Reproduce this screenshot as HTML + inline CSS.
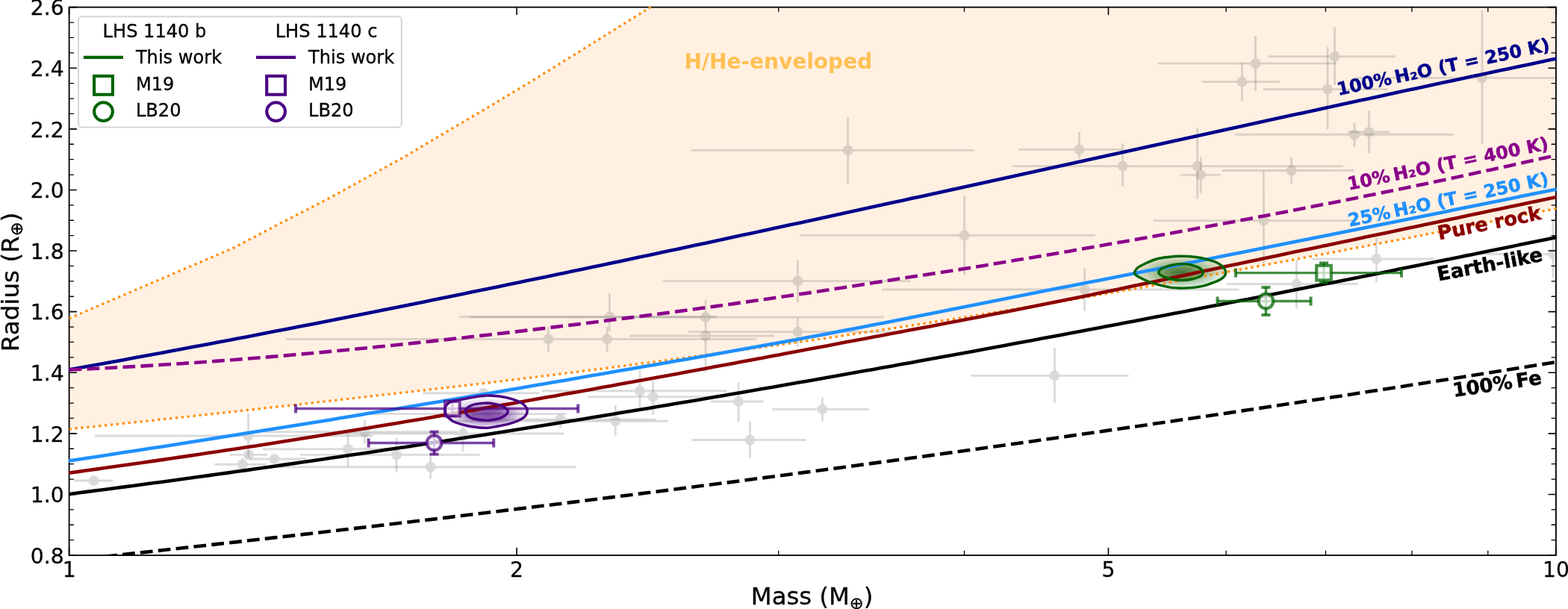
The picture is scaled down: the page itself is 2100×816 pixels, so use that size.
<!DOCTYPE html>
<html lang="en"><head><meta charset="utf-8"><title>Mass-radius diagram: LHS 1140 b and c</title>
<style>html,body{margin:0;padding:0;background:#fff;overflow:hidden}svg text{white-space:pre}.t{stroke:#000;stroke-width:0.3px}</style></head>
<body>
<svg width="2100" height="816" viewBox="0 0 2100 816" style="display:block;font-family:'DejaVu Sans','Liberation Sans',sans-serif">
<rect width="2100" height="816" fill="#fff"/>
<defs>
<clipPath id="ax"><rect x="92.6" y="9.65" width="1991.3" height="734.4"/></clipPath>
<clipPath id="ax2"><rect x="91.70" y="8.75" width="1993.1" height="736.2"/></clipPath>
<clipPath id="clc"><path d="M595.9,549.0C596.0,547.4 596.4,545.6 597.0,544.3C597.6,542.9 598.5,541.9 599.6,540.9C600.7,539.9 601.9,539.0 603.7,538.3C605.5,537.6 608.1,537.0 610.4,536.5C612.6,536.0 613.8,536.0 617.2,535.4C620.6,534.8 625.1,533.7 630.6,532.8C636.1,531.9 643.7,530.3 650.0,530.0C656.3,529.7 662.8,530.3 668.6,531.0C674.4,531.7 680.2,533.1 684.7,534.4C689.2,535.7 692.8,537.1 695.8,538.6C698.8,540.1 701.3,541.8 703.0,543.6C704.7,545.4 705.7,547.7 706.1,549.5C706.5,551.3 706.0,552.9 705.3,554.5C704.6,556.1 703.8,557.6 701.8,559.2C699.8,560.8 696.8,562.5 693.3,564.0C689.8,565.5 685.5,566.9 681.0,568.1C676.5,569.3 671.3,570.3 666.1,571.2C660.9,572.1 655.9,573.4 650.0,573.4C644.1,573.4 636.1,572.3 630.6,571.5C625.1,570.7 621.0,569.5 617.2,568.4C613.4,567.3 610.0,566.0 607.7,565.0C605.5,564.0 605.2,563.2 603.7,562.1C602.2,561.0 600.2,559.8 599.0,558.4C597.8,557.0 597.1,555.3 596.6,553.7C596.1,552.1 595.8,550.6 595.9,549.0Z"/></clipPath>
<radialGradient id="gc" gradientUnits="userSpaceOnUse" cx="0" cy="0" r="1" gradientTransform="translate(652,555) rotate(0) scale(60,22)"><stop offset="0" stop-color="#4b0082" stop-opacity="0.72"/><stop offset="0.3" stop-color="#4b0082" stop-opacity="0.62"/><stop offset="0.5" stop-color="#4b0082" stop-opacity="0.4"/><stop offset="0.75" stop-color="#4b0082" stop-opacity="0.14"/><stop offset="1" stop-color="#4b0082" stop-opacity="0.02"/></radialGradient>
<clipPath id="clb"><path d="M1519.4,365.2C1519.7,363.7 1521.4,361.1 1522.7,359.6C1524.0,358.2 1524.9,357.8 1527.0,356.5C1529.2,355.3 1532.0,353.8 1535.7,352.2C1539.4,350.6 1544.6,348.3 1549.3,347.0C1554.1,345.7 1559.2,345.1 1564.2,344.5C1569.1,343.9 1574.5,343.4 1579.0,343.3C1583.6,343.1 1587.3,343.3 1591.4,343.5C1595.6,343.8 1599.7,344.1 1603.8,344.8C1607.9,345.4 1612.1,346.4 1616.2,347.5C1620.3,348.6 1625.3,349.8 1628.6,351.2C1631.9,352.6 1634.0,354.3 1636.0,355.9C1638.0,357.5 1639.4,359.4 1640.3,360.9C1641.3,362.3 1641.6,363.1 1641.6,364.6C1641.6,366.0 1641.5,367.9 1640.3,369.5C1639.2,371.1 1637.1,372.8 1634.8,374.2C1632.4,375.7 1629.8,376.7 1626.1,378.2C1622.4,379.6 1617.2,381.7 1612.5,382.9C1607.7,384.1 1602.6,384.8 1597.6,385.4C1592.7,385.9 1587.5,386.2 1582.8,386.2C1578.0,386.2 1573.5,385.9 1569.1,385.4C1564.8,384.8 1560.9,383.9 1556.8,382.9C1552.6,381.9 1548.1,380.6 1544.4,379.4C1540.7,378.2 1537.6,377.1 1534.5,375.7C1531.4,374.4 1528.1,372.6 1525.8,371.4C1523.5,370.1 1521.9,369.3 1520.9,368.3C1519.8,367.3 1519.1,366.6 1519.4,365.2Z"/></clipPath>
<radialGradient id="gb" gradientUnits="userSpaceOnUse" cx="0" cy="0" r="1" gradientTransform="translate(1581,365) rotate(0) scale(66,24)"><stop offset="0" stop-color="#1f5a14" stop-opacity="0.82"/><stop offset="0.3" stop-color="#2a6a1c" stop-opacity="0.7"/><stop offset="0.5" stop-color="#2e7d32" stop-opacity="0.45"/><stop offset="0.75" stop-color="#2e7d32" stop-opacity="0.22"/><stop offset="1" stop-color="#2e7d32" stop-opacity="0.12"/></radialGradient>
</defs>
<g clip-path="url(#ax)">
<path d="M91.6,427.0L93.6,426.2L95.6,425.3L97.5,424.5L99.5,423.6L101.5,422.8L103.5,421.9L105.4,421.1L107.4,420.2L109.4,419.4L111.4,418.5L113.3,417.7L115.3,416.8L117.3,416.0L119.3,415.1L121.2,414.3L123.2,413.4L125.2,412.6L127.2,411.7L129.1,410.9L131.1,410.0L133.1,409.2L135.1,408.4L137.0,407.5L139.0,406.7L141.0,405.8L143.0,405.0L145.0,404.1L146.9,403.3L148.9,402.4L150.9,401.6L152.9,400.7L154.8,399.9L156.8,399.0L158.8,398.2L160.8,397.3L162.7,396.5L164.7,395.6L166.7,394.8L168.7,393.9L170.6,393.1L172.6,392.2L174.6,391.4L176.6,390.6L178.5,389.7L180.5,388.9L182.5,388.0L184.5,387.2L186.4,386.3L188.4,385.5L190.4,384.6L192.4,383.8L194.3,382.9L196.3,382.1L198.3,381.2L200.3,380.4L202.3,379.5L204.2,378.7L206.2,377.8L208.2,377.0L210.2,376.1L212.1,375.3L214.1,374.4L216.1,373.6L218.1,372.8L220.0,371.9L222.0,371.1L224.0,370.2L226.0,369.4L227.9,368.5L229.9,367.7L231.9,366.8L233.9,366.0L235.8,365.1L237.8,364.3L239.8,363.4L241.8,362.6L243.7,361.7L245.7,360.9L247.7,360.0L249.7,359.2L251.7,358.3L253.6,357.5L255.6,356.6L257.6,355.8L259.6,355.0L261.5,354.1L263.5,353.3L265.5,352.4L267.5,351.6L269.4,350.7L271.4,349.9L273.4,349.0L275.4,348.2L277.3,347.3L279.3,346.5L281.3,345.6L283.3,344.8L285.2,343.9L287.2,343.1L289.2,342.2L291.2,341.4L293.1,340.5L295.1,339.7L297.1,338.9L299.1,338.0L301.0,337.2L303.0,336.3L305.0,335.5L307.0,334.6L309.0,333.8L310.9,332.9L312.9,332.1L314.9,331.1L316.9,330.1L318.8,329.0L320.8,328.0L322.8,327.0L324.8,325.9L326.7,324.9L328.7,323.8L330.7,322.8L332.7,321.7L334.6,320.7L336.6,319.6L338.6,318.6L340.6,317.6L342.5,316.5L344.5,315.5L346.5,314.4L348.5,313.4L350.4,312.3L352.4,311.3L354.4,310.2L356.4,309.2L358.4,308.2L360.3,307.1L362.3,306.1L364.3,305.0L366.3,304.0L368.2,302.9L370.2,301.9L372.2,300.9L374.2,299.9L376.1,298.8L378.1,297.8L380.1,296.8L382.1,295.8L384.0,294.8L386.0,293.8L388.0,292.7L390.0,291.7L391.9,290.7L393.9,289.7L395.9,288.7L397.9,287.7L399.8,286.7L401.8,285.6L403.8,284.6L405.8,283.6L407.8,282.6L409.7,281.6L411.7,280.6L413.7,279.5L415.7,278.5L417.6,277.5L419.6,276.5L421.6,275.5L423.6,274.5L425.5,273.4L427.5,272.4L429.5,271.4L431.5,270.4L433.4,269.4L435.4,268.4L437.4,267.3L439.4,266.3L441.3,265.3L443.3,264.2L445.3,263.1L447.3,262.0L449.2,260.9L451.2,259.8L453.2,258.7L455.2,257.7L457.1,256.6L459.1,255.5L461.1,254.4L463.1,253.3L465.1,252.2L467.0,251.1L469.0,250.0L471.0,249.0L473.0,247.9L474.9,246.8L476.9,245.7L478.9,244.6L480.9,243.5L482.8,242.4L484.8,241.4L486.8,240.3L488.8,239.2L490.7,238.1L492.7,237.0L494.7,235.9L496.7,234.8L498.6,233.7L500.6,232.7L502.6,231.6L504.6,230.5L506.5,229.4L508.5,228.3L510.5,227.2L512.5,226.1L514.5,225.1L516.4,224.0L518.4,222.9L520.4,221.8L522.4,220.7L524.3,219.6L526.3,218.5L528.3,217.4L530.3,216.4L532.2,215.3L534.2,214.2L536.2,213.1L538.2,212.0L540.1,210.9L542.1,209.7L544.1,208.6L546.1,207.4L548.0,206.2L550.0,205.1L552.0,203.9L554.0,202.7L555.9,201.6L557.9,200.4L559.9,199.2L561.9,198.1L563.8,196.9L565.8,195.7L567.8,194.6L569.8,193.4L571.8,192.2L573.7,191.0L575.7,189.9L577.7,188.7L579.7,187.5L581.6,186.4L583.6,185.2L585.6,184.0L587.6,182.9L589.5,181.7L591.5,180.5L593.5,179.4L595.5,178.2L597.4,177.0L599.4,175.8L601.4,174.7L603.4,173.5L605.3,172.3L607.3,171.2L609.3,170.0L611.3,168.8L613.2,167.7L615.2,166.5L617.2,165.3L619.2,164.2L621.2,163.0L623.1,161.8L625.1,160.6L627.1,159.5L629.1,158.3L631.0,157.1L633.0,156.0L635.0,154.8L637.0,153.6L638.9,152.5L640.9,151.3L642.9,150.1L644.9,149.0L646.8,147.8L648.8,146.6L650.8,145.4L652.8,144.3L654.7,143.1L656.7,141.9L658.7,140.8L660.7,139.6L662.6,138.4L664.6,137.2L666.6,136.0L668.6,134.8L670.6,133.6L672.5,132.4L674.5,131.2L676.5,130.1L678.5,128.9L680.4,127.7L682.4,126.5L684.4,125.3L686.4,124.1L688.3,122.9L690.3,121.7L692.3,120.5L694.3,119.3L696.2,118.1L698.2,116.9L700.2,115.7L702.2,114.6L704.1,113.4L706.1,112.2L708.1,111.0L710.1,109.8L712.0,108.6L714.0,107.4L716.0,106.2L718.0,105.0L719.9,103.8L721.9,102.6L723.9,101.3L725.9,100.1L727.9,98.9L729.8,97.6L731.8,96.4L733.8,95.2L735.8,94.0L737.7,92.7L739.7,91.5L741.7,90.3L743.7,89.0L745.6,87.8L747.6,86.6L749.6,85.4L751.6,84.1L753.5,82.9L755.5,81.7L757.5,80.4L759.5,79.2L761.4,78.0L763.4,76.8L765.4,75.5L767.4,74.3L769.3,73.1L771.3,71.8L773.3,70.6L775.3,69.4L777.3,68.1L779.2,66.9L781.2,65.7L783.2,64.5L785.2,63.2L787.1,62.0L789.1,60.8L791.1,59.5L793.1,58.3L795.0,57.1L797.0,55.9L799.0,54.6L801.0,53.4L802.9,52.2L804.9,50.9L806.9,49.7L808.9,48.5L810.8,47.2L812.8,46.0L814.8,44.8L816.8,43.5L818.7,42.3L820.7,41.1L822.7,39.9L824.7,38.6L826.6,37.4L828.6,36.2L830.6,34.9L832.6,33.7L834.6,32.5L836.5,31.2L838.5,30.0L840.5,28.8L842.5,27.5L844.4,26.3L846.4,25.1L848.4,23.8L850.4,22.6L852.3,21.4L854.3,20.2L856.3,18.9L858.3,17.7L860.2,16.5L862.2,15.2L864.2,14.0L866.2,12.8L868.1,11.5L870.1,10.3L872.1,9.1L874.1,7.8L876.0,6.6L878.0,5.4L880.0,4.2L2088.9,-20.4L2088.9,279.2L2084.9,279.2L2072.4,281.8L2059.8,284.3L2047.3,286.8L2034.8,289.4L2022.2,291.9L2009.7,294.4L1997.1,296.9L1984.6,299.4L1972.1,301.9L1959.5,304.4L1947.0,306.9L1934.5,309.3L1921.9,311.8L1909.4,314.2L1896.9,316.7L1884.3,319.1L1871.8,321.5L1859.2,323.9L1846.7,326.4L1834.2,328.8L1821.6,331.1L1809.1,333.5L1796.6,335.9L1784.0,338.3L1771.5,340.6L1759.0,343.0L1746.4,345.3L1733.9,347.6L1721.3,350.0L1708.8,352.3L1696.3,354.6L1683.7,356.9L1671.2,359.3L1658.7,361.6L1646.1,363.9L1633.6,366.2L1621.1,368.5L1608.5,370.8L1596.0,373.1L1583.4,375.4L1570.9,377.7L1558.4,380.0L1545.8,382.2L1533.3,384.5L1520.8,386.7L1508.2,388.9L1495.7,391.1L1483.1,393.3L1470.6,395.5L1458.1,397.7L1445.5,399.8L1433.0,402.0L1420.5,404.1L1407.9,406.2L1395.4,408.2L1382.9,410.3L1370.3,412.4L1357.8,414.4L1345.2,416.4L1332.7,418.4L1320.2,420.5L1307.6,422.5L1295.1,424.4L1282.6,426.4L1270.0,428.4L1257.5,430.3L1245.0,432.3L1232.4,434.2L1219.9,436.2L1207.3,438.1L1194.8,440.0L1182.3,441.9L1169.7,443.7L1157.2,445.6L1144.7,447.5L1132.1,449.3L1119.6,451.1L1107.1,453.0L1094.5,454.8L1082.0,456.6L1069.4,458.3L1056.9,460.1L1044.4,461.9L1031.8,463.7L1019.3,465.4L1006.8,467.2L994.2,468.9L981.7,470.6L969.2,472.3L956.6,474.0L944.1,475.8L931.5,477.4L919.0,479.1L906.5,480.8L893.9,482.5L881.4,484.1L868.9,485.8L856.3,487.4L843.8,489.1L831.3,490.7L818.7,492.3L806.2,494.0L793.6,495.6L781.1,497.2L768.6,498.8L756.0,500.3L743.5,501.9L731.0,503.5L718.4,505.0L705.9,506.6L693.4,508.1L680.8,509.6L668.3,511.1L655.7,512.6L643.2,514.1L630.7,515.6L618.1,517.0L605.6,518.5L593.1,519.9L580.5,521.4L568.0,522.8L555.4,524.3L542.9,525.7L530.4,527.1L517.8,528.5L505.3,530.0L492.8,531.4L480.2,532.8L467.7,534.2L455.2,535.7L442.6,537.1L430.1,538.5L417.5,539.9L405.0,541.3L392.5,542.7L379.9,544.1L367.4,545.5L354.9,546.9L342.3,548.3L329.8,549.7L317.3,551.1L304.7,552.4L292.2,553.8L279.6,555.2L267.1,556.5L254.6,557.9L242.0,559.2L229.5,560.6L217.0,561.9L204.4,563.3L191.9,564.6L179.4,565.9L166.8,567.2L154.3,568.6L141.7,569.9L129.2,571.2L116.7,572.5L104.1,573.8L91.6,575.1Z" fill="#fff0e2"/>
<g opacity="0.26"><path d="M99,644H151M125.6,641V647" stroke="#777777" stroke-width="2.9" fill="none"/><circle cx="125.6" cy="644" r="7.0" fill="#6c6c6c" fill-opacity="0.92"/></g><g opacity="0.26"><path d="M126.6,584H499M332.6,554V613" stroke="#777777" stroke-width="2.9" fill="none"/><circle cx="332.6" cy="584" r="7.0" fill="#6c6c6c" fill-opacity="0.92"/></g><g opacity="0.26"><path d="M308,609.4H358M333,604V615" stroke="#777777" stroke-width="2.9" fill="none"/><circle cx="333" cy="609.4" r="7.0" fill="#6c6c6c" fill-opacity="0.92"/></g><g opacity="0.26"><path d="M287,622.3H357M324.6,614V631" stroke="#777777" stroke-width="2.9" fill="none"/><circle cx="324.6" cy="622.3" r="7.0" fill="#6c6c6c" fill-opacity="0.92"/></g><g opacity="0.26"><path d="M334.5,615H410M367.4,610V620" stroke="#777777" stroke-width="2.9" fill="none"/><circle cx="367.4" cy="615" r="7.0" fill="#6c6c6c" fill-opacity="0.92"/></g><g opacity="0.26"><path d="M352,601.8H520M466.1,581V625" stroke="#777777" stroke-width="2.9" fill="none"/><circle cx="466.1" cy="601.8" r="7.0" fill="#6c6c6c" fill-opacity="0.92"/></g><g opacity="0.26"><path d="M354,578.8H613M488.4,563V594.5" stroke="#777777" stroke-width="2.9" fill="none"/><circle cx="488.4" cy="578.8" r="7.0" fill="#6c6c6c" fill-opacity="0.92"/></g><g opacity="0.26"><path d="M402,609.4H643M531,587V632.6" stroke="#777777" stroke-width="2.9" fill="none"/><circle cx="531" cy="609.4" r="7.0" fill="#6c6c6c" fill-opacity="0.92"/></g><g opacity="0.26"><path d="M360,625.8H771M576.6,609V641.4" stroke="#777777" stroke-width="2.9" fill="none"/><circle cx="576.6" cy="625.8" r="7.0" fill="#6c6c6c" fill-opacity="0.92"/></g><g opacity="0.26"><path d="M440,581H755M620,572V605" stroke="#777777" stroke-width="2.9" fill="none"/><circle cx="620" cy="581" r="7.0" fill="#6c6c6c" fill-opacity="0.92"/></g><g opacity="0.26"><path d="M566.5,526.7H722M647.5,521V533" stroke="#777777" stroke-width="2.9" fill="none"/><circle cx="647.5" cy="526.7" r="7.0" fill="#6c6c6c" fill-opacity="0.92"/></g><g opacity="0.26"><path d="M477,554.6H759M630,550V559" stroke="#777777" stroke-width="2.9" fill="none"/><circle cx="630" cy="554.6" r="7.0" fill="#6c6c6c" fill-opacity="0.92"/></g><g opacity="0.26"><path d="M655,562H878M750.5,555.5V574" stroke="#777777" stroke-width="2.9" fill="none"/><circle cx="750.5" cy="562" r="7.0" fill="#6c6c6c" fill-opacity="0.92"/></g><g opacity="0.26"><path d="M601,564.2H895M824.2,543V583.5" stroke="#777777" stroke-width="2.9" fill="none"/><circle cx="824.2" cy="564.2" r="7.0" fill="#6c6c6c" fill-opacity="0.92"/></g><g opacity="0.26"><path d="M726,523.7H973.6M857,495.6V545.7" stroke="#777777" stroke-width="2.9" fill="none"/><circle cx="857" cy="523.7" r="7.0" fill="#6c6c6c" fill-opacity="0.92"/></g><g opacity="0.26"><path d="M787,531.6H952M874.6,510.4V556.2" stroke="#777777" stroke-width="2.9" fill="none"/><circle cx="874.6" cy="531.6" r="7.0" fill="#6c6c6c" fill-opacity="0.92"/></g><g opacity="0.26"><path d="M383,454.4H773M734.4,438V471" stroke="#777777" stroke-width="2.9" fill="none"/><circle cx="734.4" cy="454.4" r="7.0" fill="#6c6c6c" fill-opacity="0.92"/></g><g opacity="0.26"><path d="M773,454.4H1013.6M813,438V471" stroke="#777777" stroke-width="2.9" fill="none"/><circle cx="813" cy="454.4" r="7.0" fill="#6c6c6c" fill-opacity="0.92"/></g><g opacity="0.26"><path d="M615.4,424.5H960M816.4,393.4V444" stroke="#777777" stroke-width="2.9" fill="none"/><circle cx="816.4" cy="424.5" r="7.0" fill="#6c6c6c" fill-opacity="0.92"/></g><g opacity="0.26"><path d="M630,425H1184M945,401.6V437.5" stroke="#777777" stroke-width="2.9" fill="none"/><circle cx="945" cy="425" r="7.0" fill="#6c6c6c" fill-opacity="0.92"/></g><g opacity="0.26"><path d="M843,450H1037M945,437.5V499" stroke="#777777" stroke-width="2.9" fill="none"/><circle cx="945" cy="450" r="7.0" fill="#6c6c6c" fill-opacity="0.92"/></g><g opacity="0.26"><path d="M888,376.6H1219.4M1068.4,348.6V405.6" stroke="#777777" stroke-width="2.9" fill="none"/><circle cx="1068.4" cy="376.6" r="7.0" fill="#6c6c6c" fill-opacity="0.92"/></g><g opacity="0.26"><path d="M922,444.6H1192M1068.4,426V464" stroke="#777777" stroke-width="2.9" fill="none"/><circle cx="1068.4" cy="444.6" r="7.0" fill="#6c6c6c" fill-opacity="0.92"/></g><g opacity="0.26"><path d="M951.6,538H1022.6M989,512.4V565.6" stroke="#777777" stroke-width="2.9" fill="none"/><circle cx="989" cy="538" r="7.0" fill="#6c6c6c" fill-opacity="0.92"/></g><g opacity="0.26"><path d="M1034,548.4H1163.6M1101.4,532.6V564.4" stroke="#777777" stroke-width="2.9" fill="none"/><circle cx="1101.4" cy="548.4" r="7.0" fill="#6c6c6c" fill-opacity="0.92"/></g><g opacity="0.26"><path d="M926,589.5H1079.6M1004.4,565V613.6" stroke="#777777" stroke-width="2.9" fill="none"/><circle cx="1004.4" cy="589.5" r="7.0" fill="#6c6c6c" fill-opacity="0.92"/></g><g opacity="0.26"><path d="M926,201.4H1304.6M1135.6,157V246" stroke="#777777" stroke-width="2.9" fill="none"/><circle cx="1135.6" cy="201.4" r="7.0" fill="#6c6c6c" fill-opacity="0.92"/></g><g opacity="0.26"><path d="M1071.4,315.4H1467M1291.6,262.6V368.4" stroke="#777777" stroke-width="2.9" fill="none"/><circle cx="1291.6" cy="315.4" r="7.0" fill="#6c6c6c" fill-opacity="0.92"/></g><g opacity="0.26"><path d="M1300,503.4H1511.6M1412.4,466.4V540" stroke="#777777" stroke-width="2.9" fill="none"/><circle cx="1412.4" cy="503.4" r="7.0" fill="#6c6c6c" fill-opacity="0.92"/></g><g opacity="0.26"><path d="M1364,200.4H1503M1445.4,176.6V212" stroke="#777777" stroke-width="2.9" fill="none"/><circle cx="1445.4" cy="200.4" r="7.0" fill="#6c6c6c" fill-opacity="0.92"/></g><g opacity="0.26"><path d="M1181,388H1659.6M1452.6,359V417" stroke="#777777" stroke-width="2.9" fill="none"/><circle cx="1452.6" cy="388" r="7.0" fill="#6c6c6c" fill-opacity="0.92"/></g><g opacity="0.26"><path d="M1356,222.6H1553M1503.6,192V250" stroke="#777777" stroke-width="2.9" fill="none"/><circle cx="1503.6" cy="222.6" r="7.0" fill="#6c6c6c" fill-opacity="0.92"/></g><g opacity="0.26"><path d="M1553,222.6H1799M1603.6,171.6V266.6" stroke="#777777" stroke-width="2.9" fill="none"/><circle cx="1603.6" cy="222.6" r="7.0" fill="#6c6c6c" fill-opacity="0.92"/></g><g opacity="0.26"><path d="M1581,234.4H1635M1608.2,210V258.6" stroke="#777777" stroke-width="2.9" fill="none"/><circle cx="1608.2" cy="234.4" r="7.0" fill="#6c6c6c" fill-opacity="0.92"/></g><g opacity="0.26"><path d="M1609.6,109.6H1713.6M1663.4,84.4V135.6" stroke="#777777" stroke-width="2.9" fill="none"/><circle cx="1663.4" cy="109.6" r="7.0" fill="#6c6c6c" fill-opacity="0.92"/></g><g opacity="0.26"><path d="M1551,85H1789.6M1681.4,48V122" stroke="#777777" stroke-width="2.9" fill="none"/><circle cx="1681.4" cy="85" r="7.0" fill="#6c6c6c" fill-opacity="0.92"/></g><g opacity="0.26"><path d="M1545,295.6H1816M1692.4,229V353" stroke="#777777" stroke-width="2.9" fill="none"/><circle cx="1692.4" cy="295.6" r="7.0" fill="#6c6c6c" fill-opacity="0.92"/></g><g opacity="0.26"><path d="M1636.6,228.5H1813M1729.6,210.6V246" stroke="#777777" stroke-width="2.9" fill="none"/><circle cx="1729.6" cy="228.5" r="7.0" fill="#6c6c6c" fill-opacity="0.92"/></g><g opacity="0.26"><path d="M1642.4,380.5H1819M1736.4,348V413.6" stroke="#777777" stroke-width="2.9" fill="none"/><circle cx="1736.4" cy="380.5" r="7.0" fill="#6c6c6c" fill-opacity="0.92"/></g><g opacity="0.26"><path d="M1691.6,119.6H1858.6M1778,63V173" stroke="#777777" stroke-width="2.9" fill="none"/><circle cx="1778" cy="119.6" r="7.0" fill="#6c6c6c" fill-opacity="0.92"/></g><g opacity="0.26"><path d="M1698,75.6H1868.6M1787.6,36.4V114" stroke="#777777" stroke-width="2.9" fill="none"/><circle cx="1787.6" cy="75.6" r="7.0" fill="#6c6c6c" fill-opacity="0.92"/></g><g opacity="0.26"><path d="M1653.6,180.3H1946.6M1814,165V197" stroke="#777777" stroke-width="2.9" fill="none"/><circle cx="1814" cy="180.3" r="7.0" fill="#6c6c6c" fill-opacity="0.92"/></g><g opacity="0.26"><path d="M1805,177H1861.6M1833.6,148.4V205" stroke="#777777" stroke-width="2.9" fill="none"/><circle cx="1833.6" cy="177" r="7.0" fill="#6c6c6c" fill-opacity="0.92"/></g><g opacity="0.26"><path d="M1757,347H1920.6M1843.4,318V378" stroke="#777777" stroke-width="2.9" fill="none"/><circle cx="1843.4" cy="347" r="7.0" fill="#6c6c6c" fill-opacity="0.92"/></g><g opacity="0.26"><path d="M1814.4,104.4H2100M1985,14V192.7" stroke="#777777" stroke-width="2.9" fill="none"/><circle cx="1985" cy="104.4" r="7.0" fill="#6c6c6c" fill-opacity="0.92"/></g><g opacity="0.26"><path d="M1959,340.5H2110M2080,294V372.4" stroke="#777777" stroke-width="2.9" fill="none"/><circle cx="2080" cy="340.5" r="7.0" fill="#6c6c6c" fill-opacity="0.92"/></g>
<rect x="452" y="455" width="400" height="200" fill="url(#gc)" clip-path="url(#clc)"/>
<rect x="1381" y="265" width="400" height="200" fill="url(#gb)" clip-path="url(#clb)"/>
</g>
<rect x="92.6" y="9.65" width="1991.3" height="734.4" fill="none" stroke="#000" stroke-width="1.8"/>
<path d="M92.6,744.05h10.3M2083.9,744.05h-10.3M92.6,662.45h10.3M2083.9,662.45h-10.3M92.6,580.85h10.3M2083.9,580.85h-10.3M92.6,499.25h10.3M2083.9,499.25h-10.3M92.6,417.65h10.3M2083.9,417.65h-10.3M92.6,336.05h10.3M2083.9,336.05h-10.3M92.6,254.45h10.3M2083.9,254.45h-10.3M92.6,172.85h10.3M2083.9,172.85h-10.3M92.6,91.25h10.3M2083.9,91.25h-10.3M92.6,9.65h10.3M2083.9,9.65h-10.3M92.60,744.05v-10.3M92.60,9.65v10.3M692.04,744.05v-10.3M692.04,9.65v10.3M1484.46,744.05v-10.3M1484.46,9.65v10.3M2083.90,744.05v-10.3M2083.90,9.65v10.3" stroke="#000" stroke-width="1.6"/>
<path d="M92.6,723.65h6.3M2083.9,723.65h-6.3M92.6,703.25h6.3M2083.9,703.25h-6.3M92.6,682.85h6.3M2083.9,682.85h-6.3M92.6,642.05h6.3M2083.9,642.05h-6.3M92.6,621.65h6.3M2083.9,621.65h-6.3M92.6,601.25h6.3M2083.9,601.25h-6.3M92.6,560.45h6.3M2083.9,560.45h-6.3M92.6,540.05h6.3M2083.9,540.05h-6.3M92.6,519.65h6.3M2083.9,519.65h-6.3M92.6,478.85h6.3M2083.9,478.85h-6.3M92.6,458.45h6.3M2083.9,458.45h-6.3M92.6,438.05h6.3M2083.9,438.05h-6.3M92.6,397.25h6.3M2083.9,397.25h-6.3M92.6,376.85h6.3M2083.9,376.85h-6.3M92.6,356.45h6.3M2083.9,356.45h-6.3M92.6,315.65h6.3M2083.9,315.65h-6.3M92.6,295.25h6.3M2083.9,295.25h-6.3M92.6,274.85h6.3M2083.9,274.85h-6.3M92.6,234.05h6.3M2083.9,234.05h-6.3M92.6,213.65h6.3M2083.9,213.65h-6.3M92.6,193.25h6.3M2083.9,193.25h-6.3M92.6,152.45h6.3M2083.9,152.45h-6.3M92.6,132.05h6.3M2083.9,132.05h-6.3M92.6,111.65h6.3M2083.9,111.65h-6.3M92.6,70.85h6.3M2083.9,70.85h-6.3M92.6,50.45h6.3M2083.9,50.45h-6.3M92.6,30.05h6.3M2083.9,30.05h-6.3M1042.69,744.05v-6.3M1042.69,9.65v6.3M1291.48,744.05v-6.3M1291.48,9.65v6.3M1642.13,744.05v-6.3M1642.13,9.65v6.3M1775.44,744.05v-6.3M1775.44,9.65v6.3M1890.92,744.05v-6.3M1890.92,9.65v6.3M1992.78,744.05v-6.3M1992.78,9.65v6.3" stroke="#000" stroke-width="1.3"/>
<g clip-path="url(#ax2)">
<path d="M91.6,427.0L93.6,426.2L95.6,425.3L97.5,424.5L99.5,423.6L101.5,422.8L103.5,421.9L105.4,421.1L107.4,420.2L109.4,419.4L111.4,418.5L113.3,417.7L115.3,416.8L117.3,416.0L119.3,415.1L121.2,414.3L123.2,413.4L125.2,412.6L127.2,411.7L129.1,410.9L131.1,410.0L133.1,409.2L135.1,408.4L137.0,407.5L139.0,406.7L141.0,405.8L143.0,405.0L145.0,404.1L146.9,403.3L148.9,402.4L150.9,401.6L152.9,400.7L154.8,399.9L156.8,399.0L158.8,398.2L160.8,397.3L162.7,396.5L164.7,395.6L166.7,394.8L168.7,393.9L170.6,393.1L172.6,392.2L174.6,391.4L176.6,390.6L178.5,389.7L180.5,388.9L182.5,388.0L184.5,387.2L186.4,386.3L188.4,385.5L190.4,384.6L192.4,383.8L194.3,382.9L196.3,382.1L198.3,381.2L200.3,380.4L202.3,379.5L204.2,378.7L206.2,377.8L208.2,377.0L210.2,376.1L212.1,375.3L214.1,374.4L216.1,373.6L218.1,372.8L220.0,371.9L222.0,371.1L224.0,370.2L226.0,369.4L227.9,368.5L229.9,367.7L231.9,366.8L233.9,366.0L235.8,365.1L237.8,364.3L239.8,363.4L241.8,362.6L243.7,361.7L245.7,360.9L247.7,360.0L249.7,359.2L251.7,358.3L253.6,357.5L255.6,356.6L257.6,355.8L259.6,355.0L261.5,354.1L263.5,353.3L265.5,352.4L267.5,351.6L269.4,350.7L271.4,349.9L273.4,349.0L275.4,348.2L277.3,347.3L279.3,346.5L281.3,345.6L283.3,344.8L285.2,343.9L287.2,343.1L289.2,342.2L291.2,341.4L293.1,340.5L295.1,339.7L297.1,338.9L299.1,338.0L301.0,337.2L303.0,336.3L305.0,335.5L307.0,334.6L309.0,333.8L310.9,332.9L312.9,332.1L314.9,331.1L316.9,330.1L318.8,329.0L320.8,328.0L322.8,327.0L324.8,325.9L326.7,324.9L328.7,323.8L330.7,322.8L332.7,321.7L334.6,320.7L336.6,319.6L338.6,318.6L340.6,317.6L342.5,316.5L344.5,315.5L346.5,314.4L348.5,313.4L350.4,312.3L352.4,311.3L354.4,310.2L356.4,309.2L358.4,308.2L360.3,307.1L362.3,306.1L364.3,305.0L366.3,304.0L368.2,302.9L370.2,301.9L372.2,300.9L374.2,299.9L376.1,298.8L378.1,297.8L380.1,296.8L382.1,295.8L384.0,294.8L386.0,293.8L388.0,292.7L390.0,291.7L391.9,290.7L393.9,289.7L395.9,288.7L397.9,287.7L399.8,286.7L401.8,285.6L403.8,284.6L405.8,283.6L407.8,282.6L409.7,281.6L411.7,280.6L413.7,279.5L415.7,278.5L417.6,277.5L419.6,276.5L421.6,275.5L423.6,274.5L425.5,273.4L427.5,272.4L429.5,271.4L431.5,270.4L433.4,269.4L435.4,268.4L437.4,267.3L439.4,266.3L441.3,265.3L443.3,264.2L445.3,263.1L447.3,262.0L449.2,260.9L451.2,259.8L453.2,258.7L455.2,257.7L457.1,256.6L459.1,255.5L461.1,254.4L463.1,253.3L465.1,252.2L467.0,251.1L469.0,250.0L471.0,249.0L473.0,247.9L474.9,246.8L476.9,245.7L478.9,244.6L480.9,243.5L482.8,242.4L484.8,241.4L486.8,240.3L488.8,239.2L490.7,238.1L492.7,237.0L494.7,235.9L496.7,234.8L498.6,233.7L500.6,232.7L502.6,231.6L504.6,230.5L506.5,229.4L508.5,228.3L510.5,227.2L512.5,226.1L514.5,225.1L516.4,224.0L518.4,222.9L520.4,221.8L522.4,220.7L524.3,219.6L526.3,218.5L528.3,217.4L530.3,216.4L532.2,215.3L534.2,214.2L536.2,213.1L538.2,212.0L540.1,210.9L542.1,209.7L544.1,208.6L546.1,207.4L548.0,206.2L550.0,205.1L552.0,203.9L554.0,202.7L555.9,201.6L557.9,200.4L559.9,199.2L561.9,198.1L563.8,196.9L565.8,195.7L567.8,194.6L569.8,193.4L571.8,192.2L573.7,191.0L575.7,189.9L577.7,188.7L579.7,187.5L581.6,186.4L583.6,185.2L585.6,184.0L587.6,182.9L589.5,181.7L591.5,180.5L593.5,179.4L595.5,178.2L597.4,177.0L599.4,175.8L601.4,174.7L603.4,173.5L605.3,172.3L607.3,171.2L609.3,170.0L611.3,168.8L613.2,167.7L615.2,166.5L617.2,165.3L619.2,164.2L621.2,163.0L623.1,161.8L625.1,160.6L627.1,159.5L629.1,158.3L631.0,157.1L633.0,156.0L635.0,154.8L637.0,153.6L638.9,152.5L640.9,151.3L642.9,150.1L644.9,149.0L646.8,147.8L648.8,146.6L650.8,145.4L652.8,144.3L654.7,143.1L656.7,141.9L658.7,140.8L660.7,139.6L662.6,138.4L664.6,137.2L666.6,136.0L668.6,134.8L670.6,133.6L672.5,132.4L674.5,131.2L676.5,130.1L678.5,128.9L680.4,127.7L682.4,126.5L684.4,125.3L686.4,124.1L688.3,122.9L690.3,121.7L692.3,120.5L694.3,119.3L696.2,118.1L698.2,116.9L700.2,115.7L702.2,114.6L704.1,113.4L706.1,112.2L708.1,111.0L710.1,109.8L712.0,108.6L714.0,107.4L716.0,106.2L718.0,105.0L719.9,103.8L721.9,102.6L723.9,101.3L725.9,100.1L727.9,98.9L729.8,97.6L731.8,96.4L733.8,95.2L735.8,94.0L737.7,92.7L739.7,91.5L741.7,90.3L743.7,89.0L745.6,87.8L747.6,86.6L749.6,85.4L751.6,84.1L753.5,82.9L755.5,81.7L757.5,80.4L759.5,79.2L761.4,78.0L763.4,76.8L765.4,75.5L767.4,74.3L769.3,73.1L771.3,71.8L773.3,70.6L775.3,69.4L777.3,68.1L779.2,66.9L781.2,65.7L783.2,64.5L785.2,63.2L787.1,62.0L789.1,60.8L791.1,59.5L793.1,58.3L795.0,57.1L797.0,55.9L799.0,54.6L801.0,53.4L802.9,52.2L804.9,50.9L806.9,49.7L808.9,48.5L810.8,47.2L812.8,46.0L814.8,44.8L816.8,43.5L818.7,42.3L820.7,41.1L822.7,39.9L824.7,38.6L826.6,37.4L828.6,36.2L830.6,34.9L832.6,33.7L834.6,32.5L836.5,31.2L838.5,30.0L840.5,28.8L842.5,27.5L844.4,26.3L846.4,25.1L848.4,23.8L850.4,22.6L852.3,21.4L854.3,20.2L856.3,18.9L858.3,17.7L860.2,16.5L862.2,15.2L864.2,14.0L866.2,12.8L868.1,11.5L870.1,10.3L872.1,9.1L874.1,7.8L876.0,6.6L878.0,5.4L880.0,4.2" fill="none" stroke="#ff8c00" stroke-width="3.2" stroke-dasharray="3.2,4.75" stroke-dashoffset="-1"/>
<path d="M91.6,575.1L104.1,573.8L116.7,572.5L129.2,571.2L141.7,569.9L154.3,568.6L166.8,567.2L179.4,565.9L191.9,564.6L204.4,563.3L217.0,561.9L229.5,560.6L242.0,559.2L254.6,557.9L267.1,556.5L279.6,555.2L292.2,553.8L304.7,552.4L317.3,551.1L329.8,549.7L342.3,548.3L354.9,546.9L367.4,545.5L379.9,544.1L392.5,542.7L405.0,541.3L417.5,539.9L430.1,538.5L442.6,537.1L455.2,535.7L467.7,534.2L480.2,532.8L492.8,531.4L505.3,530.0L517.8,528.5L530.4,527.1L542.9,525.7L555.4,524.3L568.0,522.8L580.5,521.4L593.1,519.9L605.6,518.5L618.1,517.0L630.7,515.6L643.2,514.1L655.7,512.6L668.3,511.1L680.8,509.6L693.4,508.1L705.9,506.6L718.4,505.0L731.0,503.5L743.5,501.9L756.0,500.3L768.6,498.8L781.1,497.2L793.6,495.6L806.2,494.0L818.7,492.3L831.3,490.7L843.8,489.1L856.3,487.4L868.9,485.8L881.4,484.1L893.9,482.5L906.5,480.8L919.0,479.1L931.5,477.4L944.1,475.8L956.6,474.0L969.2,472.3L981.7,470.6L994.2,468.9L1006.8,467.2L1019.3,465.4L1031.8,463.7L1044.4,461.9L1056.9,460.1L1069.4,458.3L1082.0,456.6L1094.5,454.8L1107.1,453.0L1119.6,451.1L1132.1,449.3L1144.7,447.5L1157.2,445.6L1169.7,443.7L1182.3,441.9L1194.8,440.0L1207.3,438.1L1219.9,436.2L1232.4,434.2L1245.0,432.3L1257.5,430.3L1270.0,428.4L1282.6,426.4L1295.1,424.4L1307.6,422.5L1320.2,420.5L1332.7,418.4L1345.2,416.4L1357.8,414.4L1370.3,412.4L1382.9,410.3L1395.4,408.2L1407.9,406.2L1420.5,404.1L1433.0,402.0L1445.5,399.8L1458.1,397.7L1470.6,395.5L1483.1,393.3L1495.7,391.1L1508.2,388.9L1520.8,386.7L1533.3,384.5L1545.8,382.2L1558.4,380.0L1570.9,377.7L1583.4,375.4L1596.0,373.1L1608.5,370.8L1621.1,368.5L1633.6,366.2L1646.1,363.9L1658.7,361.6L1671.2,359.3L1683.7,356.9L1696.3,354.6L1708.8,352.3L1721.3,350.0L1733.9,347.6L1746.4,345.3L1759.0,343.0L1771.5,340.6L1784.0,338.3L1796.6,335.9L1809.1,333.5L1821.6,331.1L1834.2,328.8L1846.7,326.4L1859.2,323.9L1871.8,321.5L1884.3,319.1L1896.9,316.7L1909.4,314.2L1921.9,311.8L1934.5,309.3L1947.0,306.9L1959.5,304.4L1972.1,301.9L1984.6,299.4L1997.1,296.9L2009.7,294.4L2022.2,291.9L2034.8,289.4L2047.3,286.8L2059.8,284.3L2072.4,281.8L2084.9,279.2" fill="none" stroke="#ff8c00" stroke-width="3.2" stroke-dasharray="3.2,4.75" stroke-dashoffset="-1"/>
<path d="M91.6,751.0L104.1,749.6L116.7,748.3L129.2,746.9L141.7,745.5L154.3,744.2L166.8,742.8L179.4,741.4L191.9,740.1L204.4,738.7L217.0,737.3L229.5,735.9L242.0,734.5L254.6,733.1L267.1,731.7L279.6,730.3L292.2,728.9L304.7,727.5L317.3,726.1L329.8,724.7L342.3,723.3L354.9,721.9L367.4,720.4L379.9,719.0L392.5,717.6L405.0,716.1L417.5,714.7L430.1,713.2L442.6,711.8L455.2,710.3L467.7,708.9L480.2,707.4L492.8,705.9L505.3,704.5L517.8,703.0L530.4,701.5L542.9,700.0L555.4,698.5L568.0,697.1L580.5,695.6L593.1,694.1L605.6,692.6L618.1,691.0L630.7,689.5L643.2,688.0L655.7,686.5L668.3,685.0L680.8,683.4L693.4,681.9L705.9,680.4L718.4,678.8L731.0,677.3L743.5,675.8L756.0,674.2L768.6,672.6L781.1,671.1L793.6,669.5L806.2,667.9L818.7,666.4L831.3,664.8L843.8,663.2L856.3,661.6L868.9,660.0L881.4,658.5L893.9,656.9L906.5,655.3L919.0,653.6L931.5,652.0L944.1,650.4L956.6,648.8L969.2,647.2L981.7,645.6L994.2,643.9L1006.8,642.3L1019.3,640.6L1031.8,639.0L1044.4,637.4L1056.9,635.7L1069.4,634.0L1082.0,632.4L1094.5,630.7L1107.1,629.0L1119.6,627.4L1132.1,625.7L1144.7,624.0L1157.2,622.3L1169.7,620.6L1182.3,618.9L1194.8,617.2L1207.3,615.5L1219.9,613.8L1232.4,612.1L1245.0,610.4L1257.5,608.7L1270.0,606.9L1282.6,605.2L1295.1,603.5L1307.6,601.7L1320.2,600.0L1332.7,598.2L1345.2,596.5L1357.8,594.7L1370.3,593.0L1382.9,591.2L1395.4,589.4L1407.9,587.7L1420.5,585.9L1433.0,584.1L1445.5,582.3L1458.1,580.5L1470.6,578.7L1483.1,576.9L1495.7,575.1L1508.2,573.3L1520.8,571.5L1533.3,569.7L1545.8,567.8L1558.4,566.0L1570.9,564.2L1583.4,562.3L1596.0,560.5L1608.5,558.6L1621.1,556.8L1633.6,554.9L1646.1,553.1L1658.7,551.2L1671.2,549.3L1683.7,547.5L1696.3,545.6L1708.8,543.7L1721.3,541.8L1733.9,539.9L1746.4,538.0L1759.0,536.1L1771.5,534.2L1784.0,532.3L1796.6,530.4L1809.1,528.4L1821.6,526.5L1834.2,524.6L1846.7,522.7L1859.2,520.7L1871.8,518.8L1884.3,516.8L1896.9,514.9L1909.4,512.9L1921.9,510.9L1934.5,509.0L1947.0,507.0L1959.5,505.0L1972.1,503.0L1984.6,501.0L1997.1,499.1L2009.7,497.1L2022.2,495.0L2034.8,493.0L2047.3,491.0L2059.8,489.0L2072.4,487.0L2084.9,485.0" fill="none" stroke="#000" stroke-width="4.6" stroke-dasharray="16.75,7.23" stroke-dashoffset="-1"/>
<path d="M91.6,662.2L104.1,660.5L116.7,658.9L129.2,657.3L141.7,655.7L154.3,654.0L166.8,652.4L179.4,650.7L191.9,649.0L204.4,647.3L217.0,645.7L229.5,644.0L242.0,642.3L254.6,640.5L267.1,638.8L279.6,637.1L292.2,635.3L304.7,633.6L317.3,631.8L329.8,630.1L342.3,628.3L354.9,626.5L367.4,624.7L379.9,622.9L392.5,621.1L405.0,619.3L417.5,617.5L430.1,615.7L442.6,613.8L455.2,612.0L467.7,610.1L480.2,608.3L492.8,606.4L505.3,604.5L517.8,602.6L530.4,600.8L542.9,598.9L555.4,596.9L568.0,595.0L580.5,593.1L593.1,591.2L605.6,589.2L618.1,587.3L630.7,585.3L643.2,583.4L655.7,581.4L668.3,579.4L680.8,577.5L693.4,575.5L705.9,573.5L718.4,571.5L731.0,569.5L743.5,567.4L756.0,565.4L768.6,563.4L781.1,561.4L793.6,559.3L806.2,557.3L818.7,555.2L831.3,553.1L843.8,551.1L856.3,549.0L868.9,546.9L881.4,544.8L893.9,542.7L906.5,540.6L919.0,538.5L931.5,536.4L944.1,534.2L956.6,532.1L969.2,530.0L981.7,527.8L994.2,525.7L1006.8,523.5L1019.3,521.3L1031.8,519.2L1044.4,517.0L1056.9,514.8L1069.4,512.6L1082.0,510.4L1094.5,508.2L1107.1,506.0L1119.6,503.8L1132.1,501.6L1144.7,499.3L1157.2,497.1L1169.7,494.9L1182.3,492.6L1194.8,490.4L1207.3,488.1L1219.9,485.9L1232.4,483.6L1245.0,481.3L1257.5,479.0L1270.0,476.8L1282.6,474.5L1295.1,472.2L1307.6,469.9L1320.2,467.6L1332.7,465.3L1345.2,462.9L1357.8,460.6L1370.3,458.3L1382.9,456.0L1395.4,453.6L1407.9,451.3L1420.5,448.9L1433.0,446.6L1445.5,444.2L1458.1,441.8L1470.6,439.5L1483.1,437.1L1495.7,434.7L1508.2,432.3L1520.8,429.9L1533.3,427.5L1545.8,425.1L1558.4,422.7L1570.9,420.3L1583.4,417.9L1596.0,415.5L1608.5,413.1L1621.1,410.6L1633.6,408.2L1646.1,405.8L1658.7,403.3L1671.2,400.9L1683.7,398.4L1696.3,396.0L1708.8,393.5L1721.3,391.1L1733.9,388.6L1746.4,386.1L1759.0,383.6L1771.5,381.1L1784.0,378.7L1796.6,376.2L1809.1,373.7L1821.6,371.2L1834.2,368.7L1846.7,366.2L1859.2,363.7L1871.8,361.1L1884.3,358.6L1896.9,356.1L1909.4,353.6L1921.9,351.0L1934.5,348.5L1947.0,346.0L1959.5,343.4L1972.1,340.9L1984.6,338.3L1997.1,335.8L2009.7,333.2L2022.2,330.7L2034.8,328.1L2047.3,325.5L2059.8,323.0L2072.4,320.4L2084.9,317.8" fill="none" stroke="#000" stroke-width="4.6"/>
<path d="M91.6,633.8L104.1,632.1L116.7,630.3L129.2,628.6L141.7,626.8L154.3,625.0L166.8,623.3L179.4,621.5L191.9,619.7L204.4,617.9L217.0,616.1L229.5,614.2L242.0,612.4L254.6,610.6L267.1,608.7L279.6,606.8L292.2,605.0L304.7,603.1L317.3,601.2L329.8,599.3L342.3,597.4L354.9,595.4L367.4,593.5L379.9,591.5L392.5,589.6L405.0,587.6L417.5,585.6L430.1,583.6L442.6,581.6L455.2,579.5L467.7,577.5L480.2,575.5L492.8,573.4L505.3,571.3L517.8,569.3L530.4,567.2L542.9,565.1L555.4,563.0L568.0,560.9L580.5,558.7L593.1,556.6L605.6,554.5L618.1,552.3L630.7,550.2L643.2,548.0L655.7,545.8L668.3,543.6L680.8,541.4L693.4,539.2L705.9,537.0L718.4,534.8L731.0,532.6L743.5,530.4L756.0,528.1L768.6,525.9L781.1,523.7L793.6,521.4L806.2,519.1L818.7,516.9L831.3,514.6L843.8,512.3L856.3,510.0L868.9,507.8L881.4,505.5L893.9,503.2L906.5,500.9L919.0,498.5L931.5,496.2L944.1,493.9L956.6,491.6L969.2,489.2L981.7,486.9L994.2,484.6L1006.8,482.2L1019.3,479.9L1031.8,477.5L1044.4,475.2L1056.9,472.8L1069.4,470.5L1082.0,468.1L1094.5,465.7L1107.1,463.4L1119.6,461.0L1132.1,458.6L1144.7,456.3L1157.2,453.9L1169.7,451.6L1182.3,449.2L1194.8,446.8L1207.3,444.5L1219.9,442.1L1232.4,439.7L1245.0,437.4L1257.5,435.0L1270.0,432.6L1282.6,430.2L1295.1,427.8L1307.6,425.4L1320.2,423.0L1332.7,420.6L1345.2,418.2L1357.8,415.7L1370.3,413.3L1382.9,410.8L1395.4,408.3L1407.9,405.8L1420.5,403.3L1433.0,400.8L1445.5,398.2L1458.1,395.7L1470.6,393.1L1483.1,390.5L1495.7,387.9L1508.2,385.3L1520.8,382.6L1533.3,380.0L1545.8,377.4L1558.4,374.7L1570.9,372.1L1583.4,369.4L1596.0,366.8L1608.5,364.1L1621.1,361.4L1633.6,358.8L1646.1,356.1L1658.7,353.5L1671.2,350.8L1683.7,348.2L1696.3,345.5L1708.8,342.9L1721.3,340.3L1733.9,337.6L1746.4,335.0L1759.0,332.4L1771.5,329.8L1784.0,327.2L1796.6,324.5L1809.1,321.9L1821.6,319.3L1834.2,316.6L1846.7,314.0L1859.2,311.4L1871.8,308.7L1884.3,306.1L1896.9,303.5L1909.4,300.8L1921.9,298.2L1934.5,295.6L1947.0,292.9L1959.5,290.3L1972.1,287.6L1984.6,285.0L1997.1,282.3L2009.7,279.7L2022.2,277.1L2034.8,274.4L2047.3,271.8L2059.8,269.2L2072.4,266.5L2084.9,263.9" fill="none" stroke="#8b0000" stroke-width="4.6"/>
<path d="M91.6,617.6L104.1,615.7L116.7,613.8L129.2,611.9L141.7,610.0L154.3,608.1L166.8,606.1L179.4,604.2L191.9,602.3L204.4,600.3L217.0,598.4L229.5,596.4L242.0,594.5L254.6,592.5L267.1,590.5L279.6,588.6L292.2,586.6L304.7,584.6L317.3,582.6L329.8,580.6L342.3,578.6L354.9,576.6L367.4,574.6L379.9,572.5L392.5,570.5L405.0,568.5L417.5,566.4L430.1,564.4L442.6,562.4L455.2,560.3L467.7,558.2L480.2,556.2L492.8,554.1L505.3,552.0L517.8,550.0L530.4,547.9L542.9,545.8L555.4,543.7L568.0,541.6L580.5,539.5L593.1,537.4L605.6,535.3L618.1,533.2L630.7,531.1L643.2,529.0L655.7,526.9L668.3,524.7L680.8,522.6L693.4,520.4L705.9,518.3L718.4,516.1L731.0,514.0L743.5,511.8L756.0,509.7L768.6,507.5L781.1,505.3L793.6,503.1L806.2,501.0L818.7,498.8L831.3,496.6L843.8,494.5L856.3,492.3L868.9,490.1L881.4,487.9L893.9,485.7L906.5,483.6L919.0,481.4L931.5,479.2L944.1,476.9L956.6,474.7L969.2,472.5L981.7,470.3L994.2,468.0L1006.8,465.8L1019.3,463.5L1031.8,461.2L1044.4,459.0L1056.9,456.7L1069.4,454.4L1082.0,452.0L1094.5,449.7L1107.1,447.4L1119.6,445.0L1132.1,442.6L1144.7,440.2L1157.2,437.8L1169.7,435.3L1182.3,432.9L1194.8,430.4L1207.3,427.9L1219.9,425.4L1232.4,422.9L1245.0,420.4L1257.5,417.9L1270.0,415.4L1282.6,412.9L1295.1,410.4L1307.6,407.9L1320.2,405.4L1332.7,402.9L1345.2,400.4L1357.8,397.9L1370.3,395.4L1382.9,392.9L1395.4,390.5L1407.9,388.1L1420.5,385.6L1433.0,383.2L1445.5,380.7L1458.1,378.3L1470.6,375.9L1483.1,373.4L1495.7,371.0L1508.2,368.5L1520.8,366.1L1533.3,363.6L1545.8,361.2L1558.4,358.7L1570.9,356.3L1583.4,353.8L1596.0,351.4L1608.5,348.9L1621.1,346.4L1633.6,344.0L1646.1,341.5L1658.7,339.0L1671.2,336.5L1683.7,334.0L1696.3,331.6L1708.8,329.1L1721.3,326.6L1733.9,324.1L1746.4,321.6L1759.0,319.1L1771.5,316.6L1784.0,314.1L1796.6,311.5L1809.1,309.0L1821.6,306.5L1834.2,304.0L1846.7,301.5L1859.2,299.0L1871.8,296.5L1884.3,293.9L1896.9,291.4L1909.4,288.9L1921.9,286.4L1934.5,283.9L1947.0,281.3L1959.5,278.8L1972.1,276.3L1984.6,273.8L1997.1,271.2L2009.7,268.7L2022.2,266.2L2034.8,263.6L2047.3,261.1L2059.8,258.6L2072.4,256.0L2084.9,253.5" fill="none" stroke="#1e90ff" stroke-width="4.6"/>
<path d="M91.6,495.5L104.1,493.3L116.7,491.0L129.2,488.7L141.7,486.5L154.3,484.2L166.8,481.9L179.4,479.6L191.9,477.3L204.4,475.0L217.0,472.7L229.5,470.3L242.0,468.0L254.6,465.6L267.1,463.3L279.6,460.9L292.2,458.5L304.7,456.2L317.3,453.8L329.8,451.4L342.3,449.0L354.9,446.6L367.4,444.1L379.9,441.7L392.5,439.3L405.0,436.8L417.5,434.4L430.1,431.9L442.6,429.4L455.2,427.0L467.7,424.5L480.2,422.0L492.8,419.5L505.3,417.0L517.8,414.5L530.4,412.0L542.9,409.5L555.4,406.9L568.0,404.4L580.5,401.8L593.1,399.3L605.6,396.7L618.1,394.2L630.7,391.6L643.2,389.1L655.7,386.5L668.3,383.9L680.8,381.3L693.4,378.7L705.9,376.1L718.4,373.5L731.0,370.9L743.5,368.3L756.0,365.7L768.6,363.0L781.1,360.4L793.6,357.8L806.2,355.2L818.7,352.5L831.3,349.9L843.8,347.2L856.3,344.6L868.9,341.9L881.4,339.2L893.9,336.6L906.5,333.9L919.0,331.2L931.5,328.5L944.1,325.9L956.6,323.2L969.2,320.5L981.7,317.8L994.2,315.1L1006.8,312.4L1019.3,309.7L1031.8,307.0L1044.4,304.3L1056.9,301.6L1069.4,298.9L1082.0,296.2L1094.5,293.4L1107.1,290.7L1119.6,288.0L1132.1,285.3L1144.7,282.5L1157.2,279.8L1169.7,277.1L1182.3,274.3L1194.8,271.6L1207.3,268.9L1219.9,266.1L1232.4,263.4L1245.0,260.7L1257.5,257.9L1270.0,255.2L1282.6,252.4L1295.1,249.7L1307.6,246.9L1320.2,244.2L1332.7,241.4L1345.2,238.7L1357.8,235.9L1370.3,233.2L1382.9,230.4L1395.4,227.7L1407.9,224.9L1420.5,222.2L1433.0,219.4L1445.5,216.7L1458.1,213.9L1470.6,211.2L1483.1,208.4L1495.7,205.7L1508.2,202.9L1520.8,200.2L1533.3,197.4L1545.8,194.7L1558.4,191.9L1570.9,189.2L1583.4,186.4L1596.0,183.7L1608.5,180.9L1621.1,178.2L1633.6,175.5L1646.1,172.7L1658.7,170.0L1671.2,167.3L1683.7,164.5L1696.3,161.8L1708.8,159.1L1721.3,156.3L1733.9,153.6L1746.4,150.9L1759.0,148.2L1771.5,145.4L1784.0,142.7L1796.6,140.0L1809.1,137.3L1821.6,134.6L1834.2,131.9L1846.7,129.2L1859.2,126.5L1871.8,123.8L1884.3,121.1L1896.9,118.4L1909.4,115.7L1921.9,113.0L1934.5,110.3L1947.0,107.7L1959.5,105.0L1972.1,102.3L1984.6,99.7L1997.1,97.0L2009.7,94.3L2022.2,91.7L2034.8,89.0L2047.3,86.4L2059.8,83.8L2072.4,81.1L2084.9,78.5" fill="none" stroke="#00008b" stroke-width="4.6"/>
<path d="M91.6,495.6L104.1,495.0L116.7,494.4L129.2,493.8L141.7,493.2L154.3,492.5L166.8,491.8L179.4,491.1L191.9,490.4L204.4,489.6L217.0,488.8L229.5,488.0L242.0,487.2L254.6,486.3L267.1,485.5L279.6,484.6L292.2,483.6L304.7,482.7L317.3,481.7L329.8,480.7L342.3,479.7L354.9,478.7L367.4,477.6L379.9,476.6L392.5,475.5L405.0,474.4L417.5,473.2L430.1,472.1L442.6,470.9L455.2,469.7L467.7,468.5L480.2,467.3L492.8,466.1L505.3,464.8L517.8,463.5L530.4,462.3L542.9,460.9L555.4,459.6L568.0,458.3L580.5,456.9L593.1,455.5L605.6,454.1L618.1,452.7L630.7,451.3L643.2,449.9L655.7,448.5L668.3,447.0L680.8,445.6L693.4,444.1L705.9,442.6L718.4,441.1L731.0,439.6L743.5,438.1L756.0,436.6L768.6,435.1L781.1,433.5L793.6,432.0L806.2,430.4L818.7,428.8L831.3,427.2L843.8,425.6L856.3,424.0L868.9,422.4L881.4,420.7L893.9,419.1L906.5,417.4L919.0,415.7L931.5,414.0L944.1,412.3L956.6,410.6L969.2,408.8L981.7,407.1L994.2,405.3L1006.8,403.5L1019.3,401.8L1031.8,399.9L1044.4,398.1L1056.9,396.3L1069.4,394.4L1082.0,392.6L1094.5,390.7L1107.1,388.8L1119.6,386.8L1132.1,384.9L1144.7,382.9L1157.2,380.9L1169.7,379.0L1182.3,377.0L1194.8,375.0L1207.3,373.0L1219.9,371.1L1232.4,369.2L1245.0,367.3L1257.5,365.4L1270.0,363.5L1282.6,361.5L1295.1,359.5L1307.6,357.4L1320.2,355.4L1332.7,353.3L1345.2,351.2L1357.8,349.1L1370.3,347.0L1382.9,344.9L1395.4,342.8L1407.9,340.7L1420.5,338.5L1433.0,336.4L1445.5,334.2L1458.1,332.0L1470.6,329.8L1483.1,327.6L1495.7,325.4L1508.2,323.2L1520.8,321.0L1533.3,318.8L1545.8,316.5L1558.4,314.3L1570.9,312.0L1583.4,309.7L1596.0,307.4L1608.5,305.1L1621.1,302.8L1633.6,300.5L1646.1,298.2L1658.7,295.8L1671.2,293.4L1683.7,291.1L1696.3,288.7L1708.8,286.3L1721.3,283.9L1733.9,281.5L1746.4,279.0L1759.0,276.6L1771.5,274.1L1784.0,271.7L1796.6,269.2L1809.1,266.7L1821.6,264.2L1834.2,261.6L1846.7,259.1L1859.2,256.5L1871.8,254.0L1884.3,251.4L1896.9,248.8L1909.4,246.2L1921.9,243.5L1934.5,240.9L1947.0,238.2L1959.5,235.5L1972.1,232.8L1984.6,230.1L1997.1,227.4L2009.7,224.7L2022.2,221.9L2034.8,219.1L2047.3,216.3L2059.8,213.5L2072.4,210.7L2084.9,207.8" fill="none" stroke="#8b008b" stroke-width="4.6" stroke-dasharray="16.75,7.23" stroke-dashoffset="-1"/>
<g stroke="#4b0082" stroke-opacity="0.73" stroke-width="3.4" fill="none"><path d="M396,547.5H774.2"/><path d="M605.9,538.0V557.0"/><g stroke-width="4.0"><path d="M396,541.5V553.5"/><path d="M774.2,541.5V553.5"/><path d="M599.9,538.0H611.9"/><path d="M599.9,557.0H611.9"/></g><rect x="596.1" y="537.7" width="19.6" height="19.6" fill="#fff" fill-opacity="0.73" stroke-width="4.2"/></g>
<g stroke="#4b0082" stroke-opacity="0.73" stroke-width="3.4" fill="none"><path d="M493.6,593.5H661.2"/><path d="M581.5,578.6V608.6"/><g stroke-width="4.0"><path d="M493.6,587.5V599.5"/><path d="M661.2,587.5V599.5"/><path d="M575.5,578.6H587.5"/><path d="M575.5,608.6H587.5"/></g><circle cx="581.5" cy="593.5" r="9.8" fill="#fff" fill-opacity="0.73" stroke-width="4.2"/></g>
<g stroke="#006400" stroke-opacity="0.73" stroke-width="3.4" fill="none"><path d="M1655,365.6H1877"/><path d="M1773,352.4V378.4"/><g stroke-width="4.0"><path d="M1655,359.6V371.6"/><path d="M1877,359.6V371.6"/><path d="M1767.0,352.4H1779.0"/><path d="M1767.0,378.4H1779.0"/></g><rect x="1763.2" y="355.8" width="19.6" height="19.6" fill="#fff" fill-opacity="0.73" stroke-width="4.2"/></g>
<g stroke="#006400" stroke-opacity="0.73" stroke-width="3.4" fill="none"><path d="M1630.5,403.5H1755.6"/><path d="M1695.4,385V422"/><g stroke-width="4.0"><path d="M1630.5,397.5V409.5"/><path d="M1755.6,397.5V409.5"/><path d="M1689.4,385H1701.4"/><path d="M1689.4,422H1701.4"/></g><circle cx="1695.4" cy="403.5" r="9.8" fill="#fff" fill-opacity="0.73" stroke-width="4.2"/></g>
<path d="M595.9,549.0C596.0,547.4 596.4,545.6 597.0,544.3C597.6,542.9 598.5,541.9 599.6,540.9C600.7,539.9 601.9,539.0 603.7,538.3C605.5,537.6 608.1,537.0 610.4,536.5C612.6,536.0 613.8,536.0 617.2,535.4C620.6,534.8 625.1,533.7 630.6,532.8C636.1,531.9 643.7,530.3 650.0,530.0C656.3,529.7 662.8,530.3 668.6,531.0C674.4,531.7 680.2,533.1 684.7,534.4C689.2,535.7 692.8,537.1 695.8,538.6C698.8,540.1 701.3,541.8 703.0,543.6C704.7,545.4 705.7,547.7 706.1,549.5C706.5,551.3 706.0,552.9 705.3,554.5C704.6,556.1 703.8,557.6 701.8,559.2C699.8,560.8 696.8,562.5 693.3,564.0C689.8,565.5 685.5,566.9 681.0,568.1C676.5,569.3 671.3,570.3 666.1,571.2C660.9,572.1 655.9,573.4 650.0,573.4C644.1,573.4 636.1,572.3 630.6,571.5C625.1,570.7 621.0,569.5 617.2,568.4C613.4,567.3 610.0,566.0 607.7,565.0C605.5,564.0 605.2,563.2 603.7,562.1C602.2,561.0 600.2,559.8 599.0,558.4C597.8,557.0 597.1,555.3 596.6,553.7C596.1,552.1 595.8,550.6 595.9,549.0Z" fill="none" stroke="#4b0082" stroke-width="3.4"/>
<path d="M623.2,551.0C623.3,549.7 624.1,548.2 625.3,547.0C626.5,545.8 628.6,544.4 630.6,543.5C632.6,542.6 634.2,542.0 637.4,541.4C640.6,540.8 646.9,540.3 650.0,540.1C653.1,539.9 653.5,539.9 656.2,540.2C658.9,540.5 663.0,541.3 666.1,542.1C669.2,542.9 672.5,544.0 674.8,545.2C677.1,546.4 678.9,548.2 679.7,549.5C680.5,550.8 680.3,552.0 679.7,553.2C679.1,554.5 677.9,555.8 676.0,557.0C674.1,558.2 671.5,559.8 668.6,560.7C665.7,561.7 661.8,562.3 658.7,562.7C655.6,563.1 654.1,563.6 650.0,563.3C645.9,563.0 637.7,561.9 634.0,561.0C630.3,560.1 629.6,559.1 628.0,558.1C626.4,557.1 625.4,556.2 624.6,555.0C623.8,553.8 623.1,552.3 623.2,551.0Z" fill="none" stroke="#4b0082" stroke-width="3.4"/>
<path d="M1519.4,365.2C1519.7,363.7 1521.4,361.1 1522.7,359.6C1524.0,358.2 1524.9,357.8 1527.0,356.5C1529.2,355.3 1532.0,353.8 1535.7,352.2C1539.4,350.6 1544.6,348.3 1549.3,347.0C1554.1,345.7 1559.2,345.1 1564.2,344.5C1569.1,343.9 1574.5,343.4 1579.0,343.3C1583.6,343.1 1587.3,343.3 1591.4,343.5C1595.6,343.8 1599.7,344.1 1603.8,344.8C1607.9,345.4 1612.1,346.4 1616.2,347.5C1620.3,348.6 1625.3,349.8 1628.6,351.2C1631.9,352.6 1634.0,354.3 1636.0,355.9C1638.0,357.5 1639.4,359.4 1640.3,360.9C1641.3,362.3 1641.6,363.1 1641.6,364.6C1641.6,366.0 1641.5,367.9 1640.3,369.5C1639.2,371.1 1637.1,372.8 1634.8,374.2C1632.4,375.7 1629.8,376.7 1626.1,378.2C1622.4,379.6 1617.2,381.7 1612.5,382.9C1607.7,384.1 1602.6,384.8 1597.6,385.4C1592.7,385.9 1587.5,386.2 1582.8,386.2C1578.0,386.2 1573.5,385.9 1569.1,385.4C1564.8,384.8 1560.9,383.9 1556.8,382.9C1552.6,381.9 1548.1,380.6 1544.4,379.4C1540.7,378.2 1537.6,377.1 1534.5,375.7C1531.4,374.4 1528.1,372.6 1525.8,371.4C1523.5,370.1 1521.9,369.3 1520.9,368.3C1519.8,367.3 1519.1,366.6 1519.4,365.2Z" fill="none" stroke="#006400" stroke-width="3.4"/>
<path d="M1551.6,365.2C1551.4,364.2 1552.2,363.1 1553.0,362.1C1553.9,361.1 1554.5,360.4 1556.8,359.4C1559.0,358.3 1563.8,356.7 1566.7,355.9C1569.6,355.1 1571.6,354.8 1574.1,354.4C1576.6,354.0 1579.0,353.8 1581.5,353.7C1584.0,353.6 1586.7,353.7 1589.0,353.9C1591.2,354.1 1592.5,354.2 1595.1,354.9C1597.8,355.7 1602.7,357.3 1605.0,358.4C1607.4,359.5 1608.3,360.3 1609.4,361.5C1610.4,362.6 1611.2,364.0 1611.2,365.2C1611.2,366.4 1610.4,367.9 1609.4,368.9C1608.3,369.9 1607.2,370.5 1605.0,371.4C1602.9,372.2 1600.1,373.3 1596.4,374.0C1592.7,374.7 1587.3,375.5 1582.8,375.5C1578.2,375.5 1572.9,374.7 1569.1,374.0C1565.4,373.3 1563.0,372.3 1560.5,371.4C1558.0,370.4 1555.8,369.3 1554.3,368.3C1552.8,367.3 1551.8,366.2 1551.6,365.2Z" fill="none" stroke="#006400" stroke-width="3.4"/>
</g>
<text class="t" x="85.6" y="754.85" font-size="28.2" text-anchor="end">0.8</text>
<text class="t" x="85.6" y="673.25" font-size="28.2" text-anchor="end">1.0</text>
<text class="t" x="85.6" y="591.65" font-size="28.2" text-anchor="end">1.2</text>
<text class="t" x="85.6" y="510.05" font-size="28.2" text-anchor="end">1.4</text>
<text class="t" x="85.6" y="428.45" font-size="28.2" text-anchor="end">1.6</text>
<text class="t" x="85.6" y="346.85" font-size="28.2" text-anchor="end">1.8</text>
<text class="t" x="85.6" y="265.25" font-size="28.2" text-anchor="end">2.0</text>
<text class="t" x="85.6" y="183.65" font-size="28.2" text-anchor="end">2.2</text>
<text class="t" x="85.6" y="102.05" font-size="28.2" text-anchor="end">2.4</text>
<text class="t" x="85.6" y="20.45" font-size="28.2" text-anchor="end">2.6</text>
<text class="t" x="92.60" y="772.8" font-size="28.2" text-anchor="middle">1</text>
<text class="t" x="692.04" y="772.8" font-size="28.2" text-anchor="middle">2</text>
<text class="t" x="1484.46" y="772.8" font-size="28.2" text-anchor="middle">5</text>
<text class="t" x="2083.90" y="772.8" font-size="28.2" text-anchor="middle">10</text>
<text class="t" x="1005.8" y="810.4" font-size="32.3">Mass (M<tspan font-size="22.61" dx="0" dy="5.2">⊕</tspan><tspan dx="0" dy="-5.2">)</tspan></text>
<text class="t" transform="translate(24.9,471.2) rotate(-90)" font-size="32.6">Radius (R<tspan font-size="22.82" dx="0" dy="5.2">⊕</tspan><tspan dx="0" dy="-5.2">)</tspan></text>
<rect x="105" y="22.2" width="432.8" height="148.3" rx="4.5" fill="#fff" fill-opacity="0.8" stroke="#ccc" stroke-opacity="0.8" stroke-width="2.0"/>
<text class="t" x="137.6" y="49.75" font-size="24.1">LHS 1140 b</text>
<path d="M114.0,76.8H162.8" stroke="#006400" stroke-width="4.3" stroke-linecap="square"/>
<text class="t" x="181.9" y="85.05" font-size="24.1">This work</text>
<rect x="126.10" y="101.90" width="24.8" height="24.8" fill="#fff" stroke="#006400" stroke-width="4.1"/>
<text class="t" x="181.9" y="120.7" font-size="24.1">M19</text>
<circle cx="138.50" cy="149.6" r="12.4" fill="#fff" stroke="#006400" stroke-width="4.1"/>
<text class="t" x="181.9" y="156.2" font-size="24.1">LB20</text>
<text class="t" x="368.7" y="49.75" font-size="24.1">LHS 1140 c</text>
<path d="M345.1,76.8H393.9" stroke="#4b0082" stroke-width="4.3" stroke-linecap="square"/>
<text class="t" x="413.0" y="85.05" font-size="24.1">This work</text>
<rect x="357.20" y="101.90" width="24.8" height="24.8" fill="#fff" stroke="#4b0082" stroke-width="4.1"/>
<text class="t" x="413.0" y="120.7" font-size="24.1">M19</text>
<circle cx="369.60" cy="149.6" r="12.4" fill="#fff" stroke="#4b0082" stroke-width="4.1"/>
<text class="t" x="413.0" y="156.2" font-size="24.1">LB20</text>
<text transform="translate(916.4,91.9) rotate(0)" font-size="28.0" font-weight="bold" fill="#ffa500" stroke="#ffa500" stroke-width="0.5" stroke-opacity="0" fill-opacity="0.63">H/He-enveloped</text>
<text transform="translate(1792.6,128) rotate(-12.0)" font-size="24.0" font-weight="bold" fill="#00008b" stroke="#00008b" stroke-width="0.5">100% <tspan dx="-3.5">H₂O (T = 250 K)</tspan></text>
<text transform="translate(1806.6,254.8) rotate(-11.55)" font-size="24.0" font-weight="bold" fill="#8b008b" stroke="#8b008b" stroke-width="0.5">10% <tspan dx="-3.5">H₂O (T = 400 K)</tspan></text>
<text transform="translate(1807.2,303.8) rotate(-11.9)" font-size="24.0" font-weight="bold" fill="#1e90ff" stroke="#1e90ff" stroke-width="0.5">25% <tspan dx="-3.5">H₂O (T = 250 K)</tspan></text>
<text transform="translate(1927.35,321.5) rotate(-11.4)" font-size="26.05" font-weight="bold" fill="#8b0000" stroke="#8b0000" stroke-width="0.5">Pure rock</text>
<text transform="translate(1926.6,376.6) rotate(-10.9)" font-size="26.25" font-weight="bold" fill="#000" stroke="#000" stroke-width="0.5">Earth-like</text>
<text transform="translate(1947.0,532.1) rotate(-8.5)" font-size="26.05" font-weight="bold" fill="#000" stroke="#000" stroke-width="0.5">100% <tspan dx="-3.9">Fe</tspan></text>
</svg>
</body></html>
